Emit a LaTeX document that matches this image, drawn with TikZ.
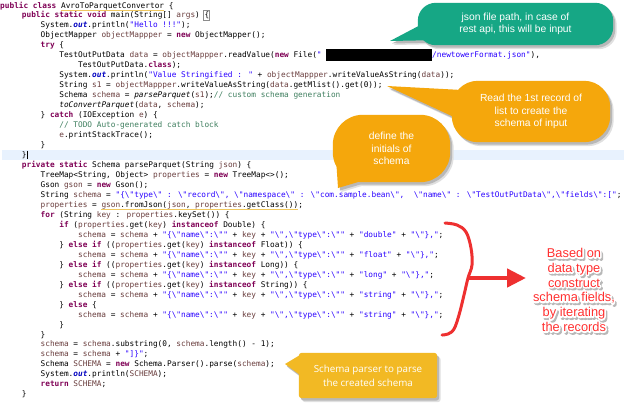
\documentclass[tikz,border=0pt]{standalone}
\usepackage{fontspec}
\usetikzlibrary{arrows.meta}
\newfontfamily\codefont{DejaVu Sans Mono}
\newfontfamily\calfont{Liberation Sans}
\newfontfamily\yelfont{Open Sans}
\definecolor{kwc}{RGB}{127,0,85}
\definecolor{stc}{RGB}{42,0,255}
\definecolor{vrc}{RGB}{106,62,62}
\definecolor{fdc}{RGB}{0,0,192}
\definecolor{cmc}{RGB}{63,127,95}
\definecolor{grn}{RGB}{22,167,133}
\definecolor{org}{RGB}{245,167,12}
\definecolor{ylw}{RGB}{242,185,36}
\definecolor{redc}{RGB}{238,48,48}
\definecolor{redt}{RGB}{255,48,48}
\definecolor{hl}{RGB}{232,242,254}
\definecolor{warn}{RGB}{240,200,95}
\pgfdeclarelayer{codel}\pgfdeclarelayer{shadl}\pgfdeclarelayer{filll}
\pgfsetlayers{codel,shadl,filll,main}
\newcommand\Kw[1]{{\bfseries\color{kwc}#1}}
\newcommand\Str[1]{{\color{stc}#1}}
\newcommand\Var[1]{{\color{vrc}#1}}
\newcommand\Fld[1]{{\color{fdc}\bfseries\itshape #1}}
\newcommand\Cmt[1]{{\color{cmc}#1}}
\newcommand\Smt[1]{{\itshape #1}}
\newcommand\bs{\textbackslash}
\newcommand\CL[3]{\node[code] (l#1) at ({3+18.72*#2},{8+9.97*(#1-1)}) {#3};}
\newcommand\strokeon[1]{\special{pdf:literal direct 2 Tr #1 w 1 j 1 J}}
\newcommand\rednotetext{Based on\\data type\\construct\\schema fields,\\by iterating\\the records}
\tikzset{
  code/.style={anchor=base west, inner sep=0pt, font=\codefont\fontsize{7.78}{9}\selectfont},
  calltext/.style={align=center, text=white, inner sep=0pt, font=\calfont\fontsize{10.3}{12.5}\selectfont},
  redtxt/.style={align=center, inner sep=0pt, font=\calfont\fontsize{12.8}{14.8}\selectfont}
}
\begin{document}
\begin{tikzpicture}[x=1pt,y=-1pt]
\useasboundingbox (0,0) rectangle (624,405);
\begin{pgfonlayer}{codel}
\fill[white] (0,0) rectangle (624,405);
\fill[hl] (2,150) rectangle (624,159.5);
\node[code] (l1) at (0,8) {\Kw{public} \Kw{class} AvroToParquetConvertor \{};
\CL{2}{1}{\Kw{public} \Kw{static} \Kw{void} main(String[] \Var{args}) \{}
\CL{3}{2}{System.\Fld{out}.println(\Str{"Hello !!!"});}
\CL{4}{2}{ObjectMapper \Var{objectMappper} = \Kw{new} ObjectMapper();}
\CL{5}{2}{\Kw{try} \{}
\CL{6}{3}{TestOutPutData \Var{data} = \Var{objectMappper}.readValue(\Kw{new} File(\Str{"}}
\node[code] (l6b) at (432,{8+9.97*5}) {\Str{/newtowerFormat.json"}),};
\CL{7}{4}{TestOutPutData.\Kw{class});}
\CL{8}{3}{System.\Fld{out}.println(\Str{"Value Stringified : "} + \Var{objectMappper}.writeValueAsString(\Var{data}));}
\CL{9}{3}{String \Var{s1} = \Var{objectMappper}.writeValueAsString(\Var{data}.getMlist().get(0));}
\CL{10}{3}{Schema \Var{schema} = \Smt{parseParquet}(\Var{s1});\Cmt{// custom schema generation}}
\CL{11}{3}{\Smt{toConvertParquet}(\Var{data}, \Var{schema});}
\CL{12}{2}{\} \Kw{catch} (IOException \Var{e}) \{}
\CL{13}{3}{\Cmt{// TODO Auto-generated catch block}}
\CL{14}{3}{\Var{e}.printStackTrace();}
\CL{15}{2}{\}}
\CL{16}{1}{\}}
\CL{17}{1}{\Kw{private} \Kw{static} Schema parseParquet(String \Var{json}) \{}
\CL{18}{2}{TreeMap<String, Object> \Var{properties} = \Kw{new} TreeMap<>();}
\CL{19}{2}{Gson \Var{gson} = \Kw{new} Gson();}
\CL{20}{2}{String \Var{schema} = \Str{"\{\bs"type\bs" : \bs"record\bs", \bs"namespace\bs" : \bs"com.sample.bean\bs",~~\bs"name\bs" : \bs"TestOutPutData\bs",\bs"fields\bs":["};}
\CL{21}{2}{\Var{properties} = \Var{gson}.fromJson(\Var{json}, \Var{properties}.getClass());}
\CL{22}{2}{\Kw{for} (String \Var{key} : \Var{properties}.keySet()) \{}
\CL{23}{3}{\Kw{if} (\Var{properties}.get(\Var{key}) \Kw{instanceof} Double) \{}
\CL{24}{4}{\Var{schema} = \Var{schema} + \Str{"\{\bs"name\bs":\bs""} + \Var{key} + \Str{"\bs",\bs"type\bs":\bs""} + \Str{"double"} + \Str{"\bs"\},"};}
\CL{25}{3}{\} \Kw{else} \Kw{if} ((\Var{properties}.get(\Var{key}) \Kw{instanceof} Float)) \{}
\CL{26}{4}{\Var{schema} = \Var{schema} + \Str{"\{\bs"name\bs":\bs""} + \Var{key} + \Str{"\bs",\bs"type\bs":\bs""} + \Str{"float"} + \Str{"\bs"\},"};}
\CL{27}{3}{\} \Kw{else} \Kw{if} ((\Var{properties}.get(\Var{key}) \Kw{instanceof} Long)) \{}
\CL{28}{4}{\Var{schema} = \Var{schema} + \Str{"\{\bs"name\bs":\bs""} + \Var{key} + \Str{"\bs",\bs"type\bs":\bs""} + \Str{"long"} + \Str{"\bs"\},"};}
\CL{29}{3}{\} \Kw{else} \Kw{if} ((\Var{properties}.get(\Var{key}) \Kw{instanceof} String)) \{}
\CL{30}{4}{\Var{schema} = \Var{schema} + \Str{"\{\bs"name\bs":\bs""} + \Var{key} + \Str{"\bs",\bs"type\bs":\bs""} + \Str{"string"} + \Str{"\bs"\},"};}
\CL{31}{3}{\} \Kw{else} \{}
\CL{32}{4}{\Var{schema} = \Var{schema} + \Str{"\{\bs"name\bs":\bs""} + \Var{key} + \Str{"\bs",\bs"type\bs":\bs""} + \Str{"string"} + \Str{"\bs"\},"};}
\CL{33}{3}{\}}
\CL{34}{2}{\}}
\CL{35}{2}{\Var{schema} = \Var{schema}.substring(0, \Var{schema}.length() - 1);}
\CL{36}{2}{\Var{schema} = \Var{schema} + \Str{"]\}"};}
\CL{37}{2}{Schema \Var{SCHEMA} = \Kw{new} Schema.Parser().parse(\Var{schema});}
\CL{38}{2}{System.\Fld{out}.println(\Var{SCHEMA});}
\CL{39}{2}{\Kw{return} \Var{SCHEMA};}
\CL{40}{1}{\}}
% redaction, marks
\fill[black] (326,49) rectangle (432,61);
\draw[black!45, line width=0.4pt] (203.5,10.5) rectangle (209.5,20.5);
\draw[line width=0.6pt] (26.8,150.5) -- (26.8,158.8);
\draw[warn, line width=0.7pt] (60.8,10.3) -- (163.8,10.3);
\draw[warn, line width=0.7pt] (101.2,209.3) -- (297.8,209.3);
\end{pgfonlayer}

% callout texts
\node[calltext, minimum width=195pt, minimum height=42pt] (green) at (515.5,24) {json file path, in case of\\rest api, this will be input};
\node[calltext, minimum width=158pt, minimum height=61pt] (read) at (531,111.5) {Read the 1st record of\\list to create the\\schema of input};
\node[calltext, minimum width=117pt, minimum height=67pt] (define) at (391.5,148.5) {define the\\initials of\\schema};
\node[calltext, font=\yelfont\fontsize{9.8}{14}\selectfont, minimum width=138pt, minimum height=45pt] (parser) at (368,375.5) {Schema parser to parse\\the created schema};

\coordinate (gtip) at (390,41); \coordinate (ga) at (428,21); \coordinate (gb) at (441,40);
\coordinate (otip) at (387,86); \coordinate (oa) at (462,90); \coordinate (ob) at (456,118);
\coordinate (dtip) at (338,188); \coordinate (da) at (336,158); \coordinate (db) at (365,180);
\coordinate (ytip) at (285,364); \coordinate (ya) at (300,355); \coordinate (yb) at (300,375);

\newcommand\calloutshapes[1]{%
  \fill[#1,rounded corners=18pt] (green.south west) rectangle (green.north east);
  \fill[#1] (gtip) -- (ga) -- (gb) -- cycle;
  \fill[#1,rounded corners=26pt] (read.south west) rectangle (read.north east);
  \fill[#1] (otip) -- (oa) -- (ob) -- cycle;
  \fill[#1,rounded corners=30pt] (define.south west) rectangle (define.north east);
  \fill[#1] (dtip) -- (da) -- (db) -- cycle;
  \fill[#1,rounded corners=3pt] (parser.south west) rectangle (parser.north east);
  \fill[#1] (ytip) -- (ya) -- (yb) -- cycle;}
\begin{pgfonlayer}{shadl}
\begin{scope}[transform canvas={xshift=3.5pt,yshift=-4pt}]
\calloutshapes{black!12}
\end{scope}
\begin{scope}[transform canvas={xshift=2pt,yshift=-2.5pt}]
\calloutshapes{black!28}
\end{scope}
\end{pgfonlayer}
\begin{pgfonlayer}{filll}
\fill[grn,rounded corners=18pt] (green.south west) rectangle (green.north east);
\fill[grn] (gtip) -- (ga) -- (gb) -- cycle;
\fill[org,rounded corners=26pt] (read.south west) rectangle (read.north east);
\fill[org] (otip) -- (oa) -- (ob) -- cycle;
\fill[org,rounded corners=30pt] (define.south west) rectangle (define.north east);
\fill[org] (dtip) -- (da) -- (db) -- cycle;
\fill[ylw,rounded corners=3pt] (parser.south west) rectangle (parser.north east);
\fill[ylw] (ytip) -- (ya) -- (yb) -- cycle;
\end{pgfonlayer}

% red brace and arrow
\draw[redc, line width=3pt, line cap=round, line join=round] plot[smooth, tension=0.6] coordinates {(445,223) (457,225) (466,232) (471,248) (472,265) (468,278) (464,295) (459,315) (454,329) (448,334) (442,335)};
\coordinate (bmid) at (468,278);
\coordinate (atip) at (526,278);
\draw[redc, line width=4.5pt, -{Triangle[length=19pt,width=18pt]}] (bmid) -- (atip);

% red note: shadow, white halo, red text
\node[redtxt, text=black!28] (redshadow) at (575.6,291.8) {\strokeon{2.8}\rednotetext};
\node[redtxt, text=white] (redhalo) at (574,290) {\strokeon{2.8}\rednotetext};
\node[redtxt, text=redt] (rednote) at (574,290) {\rednotetext};
\end{tikzpicture}
\end{document}
